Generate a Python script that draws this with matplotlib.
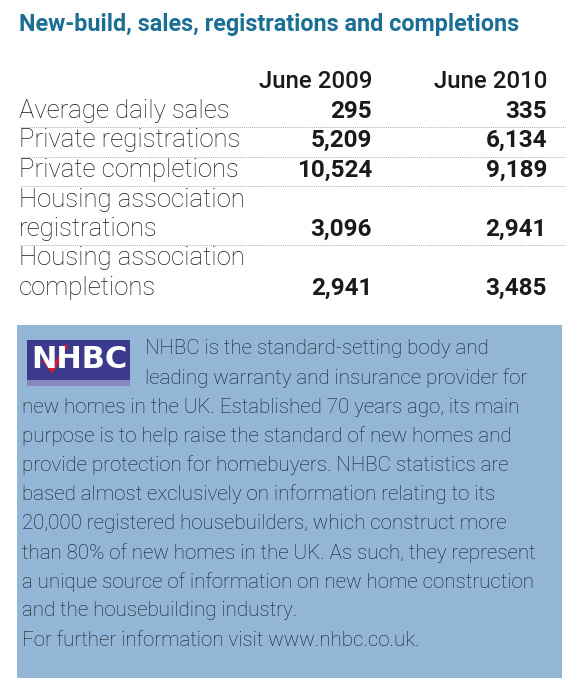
import matplotlib
matplotlib.use('Agg')
import matplotlib.pyplot as plt
from matplotlib.patches import Rectangle

# Table data
title = 'New-build, sales, registrations and completions'
columns = ['June 2009', 'June 2010']
row_labels = [
    ['Average daily sales'],
    ['Private registrations'],
    ['Private completions'],
    ['Housing association', 'registrations'],
    ['Housing association', 'completions'],
]
june_2009 = [295, 5209, 10524, 3096, 2941]
june_2010 = [335, 6134, 9189, 2941, 3485]

info_lines = [
    'NHBC is the standard-setting body and',
    'leading warranty and insurance provider for',
    'new homes in the UK. Established 70 years ago, its main',
    'purpose is to help raise the standard of new homes and',
    'provide protection for homebuyers. NHBC statistics are',
    'based almost exclusively on information relating to its',
    '20,000 registered housebuilders, which construct more',
    'than 80% of new homes in the UK. As such, they represent',
    'a unique source of information on new home construction',
    'and the housebuilding industry.',
    'For further information visit www.nhbc.co.uk.',
]

W, H = 580, 697
fig = plt.figure(figsize=(W / 100, H / 100), dpi=100)
ax = fig.add_axes([0, 0, 1, 1])
ax.set_xlim(0, W)
ax.set_ylim(H, 0)
ax.axis('off')

font = 'Roboto'

# title
ax.text(19, 24, title, fontsize=16.8, fontweight='bold', color='#1b6f95',
        family=font, va='center', ha='left')

# column headers
col_x = [372, 547]
for cx, name in zip(col_x, columns):
    ax.text(cx, 82, name, fontsize=17.3, fontweight='medium', color='#1a1a1a',
            family=font, va='center', ha='right')

# rows
line_h = 29.5
y = 111
for label, v1, v2 in zip(row_labels, june_2009, june_2010):
    for i, part in enumerate(label):
        ax.text(19, y + i * line_h, part, fontsize=18.5, fontweight='light',
                color='#1a1a1a', family=font, va='center', ha='left')
    vy = y + (len(label) - 1) * line_h
    ax.text(col_x[0], vy, f'{v1:,}', fontsize=17.5, fontweight='bold',
            color='#1a1a1a', family=font, va='center', ha='right')
    ax.text(col_x[1], vy, f'{v2:,}', fontsize=17.5, fontweight='bold',
            color='#1a1a1a', family=font, va='center', ha='right')
    if label is not row_labels[-1]:
        ax.plot([20, 565], [vy + 16, vy + 16], color='#b0b0b0', lw=0.7,
                ls=(0, (1, 1)))
    y = vy + line_h

# info box
ax.add_patch(Rectangle((17, 325), 545, 353, facecolor='#93b6d7',
                       edgecolor='none'))

# logo
ax.add_patch(Rectangle((27, 340), 103, 40, facecolor='#3b3a8c',
                       edgecolor='none'))
ax.add_patch(Rectangle((27, 380), 103, 6, facecolor='#8a87c0',
                       edgecolor='none'))
ax.text(79, 360, 'NHBC', fontsize=22, fontweight='bold', color='white',
        family='DejaVu Sans', va='center', ha='center')
ax.plot([44, 52, 66], [360, 371, 346], color='#d0202e', lw=2.5,
        solid_capstyle='round')

text_y = 349
for i, line in enumerate(info_lines):
    tx = 145 if i < 2 else 22
    ax.text(tx, text_y + i * 29.1, line, fontsize=14.8, fontweight='light',
            color='#111a24', family=font, va='center', ha='left')

fig.savefig('out.png', dpi=100)
